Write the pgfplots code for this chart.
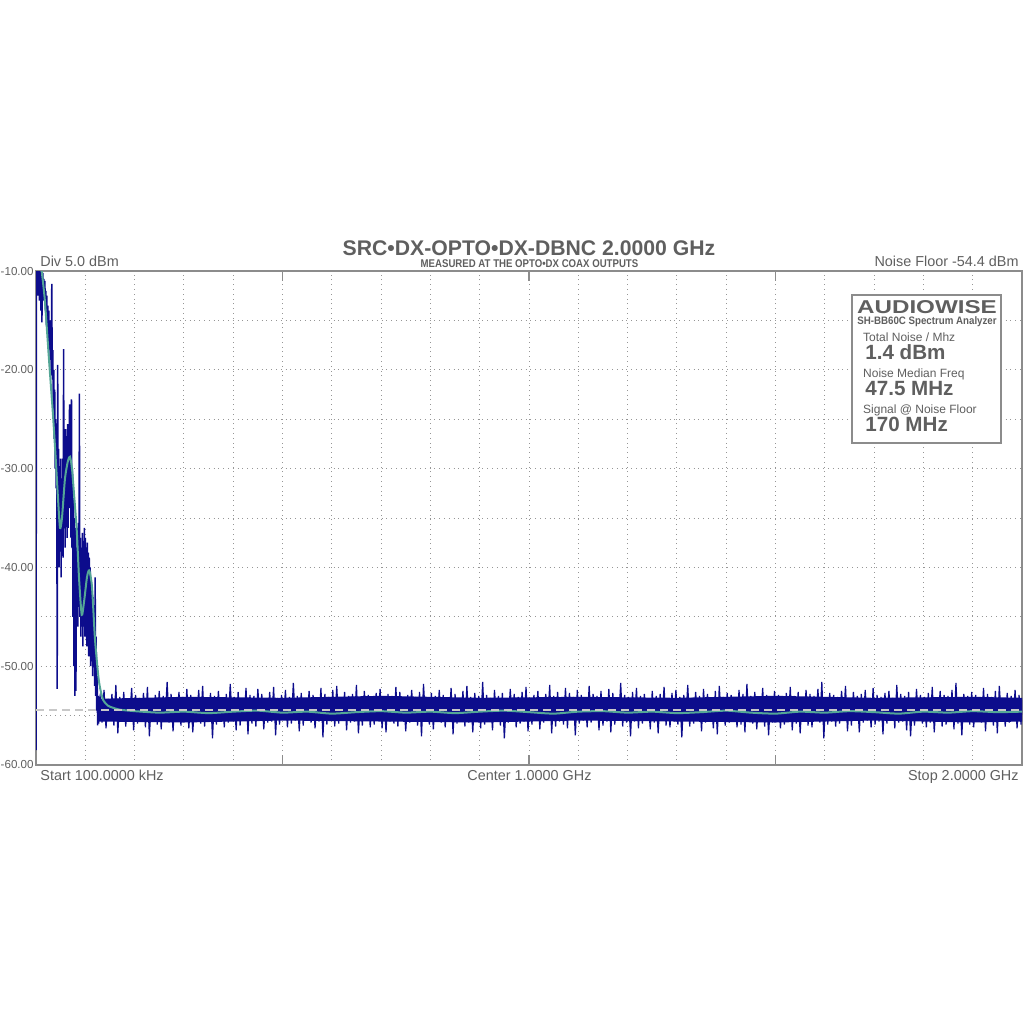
\documentclass[border=0pt]{standalone}
\usepackage{pgfplots}
\pgfplotsset{compat=1.18}
\usepackage{fontspec}
\setmainfont{Liberation Sans}
\definecolor{trace}{RGB}{12,12,140}
\definecolor{tealc}{RGB}{84,166,150}
\definecolor{txt}{RGB}{95,95,95}
\definecolor{axgray}{RGB}{140,140,140}
\definecolor{gridgray}{RGB}{150,150,150}
\definecolor{floorc}{RGB}{200,200,200}
\begin{document}
\begin{tikzpicture}
\useasboundingbox (0,0) rectangle (512pt,512pt);
\begin{axis}[
  at={(18pt,129.5pt)}, anchor=south west,
  scale only axis, width=493pt, height=247pt,
  xmin=0, xmax=2000, ymin=-60, ymax=-10,
  clip=true,
  axis line style={axgray, line width=1pt},
  xtick={0,100,...,2000}, xticklabels={},
  ytick={-60,-50,...,-10},
  yticklabels={-60.00,-50.00,-40.00,-30.00,-20.00,-10.00},
  minor ytick={-55,-45,-35,-25,-15},
  grid=both,
  major grid style={gridgray, dotted, line width=0.5pt},
  minor grid style={gridgray, dotted, line width=0.5pt},
  major tick length=0pt, minor tick length=0pt,
  extra x ticks={500,1000,1500}, extra x tick labels={},
  extra x tick style={grid=none, major tick length=5pt, tick align=inside, tickpos=both, tick style={axgray, line width=0.8pt}},
  yticklabel style={font=\fontsize{5.8pt}{6pt}\selectfont, text=txt, inner sep=0pt, xshift=-1pt},
]
% dense core of the noise floor trace
\addplot[fill=trace, draw=none] coordinates {
(126,-53.3)(300,-53.1)(500,-53.2)(700,-53.0)(900,-53.2)(1100,-53.1)(1300,-53.2)(1500,-53.0)(1700,-53.2)(1900,-53.1)(2000,-53.2)
(2000,-55.6)(1900,-55.7)(1700,-55.5)(1500,-55.7)(1300,-55.6)(1100,-55.5)(900,-55.7)(700,-55.6)(500,-55.5)(300,-55.7)(126,-55.6)
} -- cycle;
% navy spectrum trace: signal region
\addplot[trace, line width=0.75pt] coordinates {
(0.1,-58.5)(1,-10)(2,-11)(3,-10)(4,-12.5)(5,-10)(6,-10.5)(7,-13)(8,-10)(9,-11)(10,-14)(11,-10.5)(12,-15.2)(13,-11)(14,-10.2)(15,-13)(16,-10.8)(17,-12)(18,-11)(19,-14)(20,-12)(21,-15.5)(22,-12.5)(23,-16)(24,-13.5)(25,-17.5)(26,-14)(27,-18)(28,-15)(29,-19)(30,-16)(31,-20.5)(32,-11.3)(33,-21)(34,-18)(35,-24)(36,-20)(37,-27)(38,-22)(39,-30)(40,-25)(41,-32)(42,-26)(43,-52.3)(44,-19.5)(45,-36)(46,-28)(47,-40)(48,-30)(49,-37)(50,-29)(51,-41)(52,-31)(53,-38)(54,-29)(55,-39)(56,-17.9)(57,-36)(58,-27)(59,-38)(60,-26)(61,-35)(62,-28)(63,-37)(64,-25.5)(65,-36)(66,-27)(67,-34)(68,-23.5)(69,-33)(70,-26)(71,-37)(72,-23)(73,-38)(74,-30)(75,-45)(76,-33)(77,-50)(78,-35)(79,-53)(80,-36)(81,-52.5)(82,-38)(83,-44)(84,-36)(85,-46)(86,-35.5)(87,-44)(88,-22.4)(89,-45)(90,-37)(91,-47)(92,-38)(93,-46)(94,-36.5)(95,-48)(96,-38)(97,-46)(98,-36)(99,-47)(100,-37)(101,-45)(102,-38)(103,-48)(104,-37.5)(105,-46)(106,-38.5)(107,-49)(108,-39)(109,-47)(110,-40)(111,-50)(112,-41)(113,-48)(114,-42)(115,-51)(116,-43)(117,-49.5)(118,-44)(119,-52)(120,-41)(121,-53)(122,-47)(123,-54.5)(124,-51)(125,-56)(126,-53)(127,-55.8)(128,-53.5)
};
% navy spectrum trace: noise floor region
\addplot[trace, line width=0.6pt] coordinates {
(128,-53.5)(130,-53.0)(134,-55.7)(138,-52.4)(142,-56.3)(146,-53.3)(150,-55.4)(154,-52.8)(158,-56.0)(162,-51.9)(166,-56.8)(170,-53.1)(174,-55.6)(178,-52.6)(182,-56.1)(186,-53.5)(190,-55.3)(194,-52.2)(198,-56.5)(202,-52.9)(206,-55.8)
(210,-53.2)(214,-55.5)(218,-52.7)(222,-56.2)(226,-52.1)(230,-57.1)(234,-53.4)(238,-55.6)(242,-52.9)(246,-55.9)(250,-52.5)(254,-56.4)(258,-53.0)(262,-55.3)(266,-51.6)(270,-55.7)(274,-52.8)(278,-56.6)(282,-53.3)(286,-55.4)
(290,-52.6)(294,-56.0)(298,-53.1)(302,-55.6)(306,-52.3)(310,-56.3)(314,-52.9)(318,-56.7)(322,-53.6)(326,-55.5)(330,-52.4)(334,-55.8)(338,-52.0)(342,-56.1)(346,-53.2)(350,-55.3)(354,-52.7)(358,-57.3)(362,-53.0)(366,-55.9)
(370,-52.5)(374,-55.6)(378,-53.3)(382,-56.2)(386,-52.8)(390,-55.7)(394,-51.8)(398,-55.4)(402,-53.1)(406,-56.5)(410,-52.6)(414,-56.0)(418,-53.4)(422,-55.5)(426,-52.2)(430,-56.9)(434,-52.9)(438,-55.8)(442,-53.0)(446,-56.1)
(450,-52.3)(454,-55.3)(458,-52.8)(462,-56.4)(466,-53.5)(470,-55.7)(474,-52.6)(478,-55.6)(482,-52.1)(486,-57.0)(490,-53.2)(494,-55.9)(498,-52.9)(502,-55.4)(506,-52.4)(510,-56.2)(514,-53.1)(518,-55.8)(522,-51.7)(526,-55.5)
(530,-53.0)(534,-56.6)(538,-52.7)(542,-56.0)(546,-53.3)(550,-55.3)(554,-52.5)(558,-55.7)(562,-52.9)(566,-56.3)(570,-53.6)(574,-55.6)(578,-52.2)(582,-57.2)(586,-52.8)(590,-55.9)(594,-53.1)(598,-55.5)(602,-52.4)(606,-56.1)
(610,-52.0)(614,-55.8)(618,-53.2)(622,-55.4)(626,-52.6)(630,-56.5)(634,-53.0)(638,-55.7)(642,-52.8)(646,-55.6)(650,-51.9)(654,-56.8)(658,-53.4)(662,-56.0)(666,-52.5)(670,-55.3)(674,-52.9)(678,-56.2)(682,-53.1)(686,-55.9)
(690,-52.7)(694,-55.5)(698,-52.3)(702,-56.3)(706,-53.3)(710,-56.7)(714,-52.8)(718,-55.6)(722,-53.0)(726,-55.8)(730,-52.1)(734,-56.1)(738,-52.6)(742,-55.4)(746,-53.5)(750,-56.6)(754,-52.9)(758,-55.7)(762,-52.4)(766,-55.5)
(770,-53.1)(774,-56.0)(778,-52.6)(782,-57.1)(786,-51.8)(790,-55.3)(794,-53.2)(798,-55.9)(802,-52.7)(806,-56.4)(810,-53.0)(814,-55.6)(818,-52.4)(822,-55.7)(826,-52.9)(830,-56.2)(834,-53.4)(838,-55.4)(842,-52.2)(846,-56.9)
(850,-52.8)(854,-55.8)(858,-53.3)(862,-55.5)(866,-52.5)(870,-56.1)(874,-52.0)(878,-55.7)(882,-53.1)(886,-56.7)(890,-52.7)(894,-55.3)(898,-53.0)(902,-56.3)(906,-51.6)(910,-55.9)(914,-52.9)(918,-55.6)(922,-53.2)(926,-56.5)
(930,-52.4)(934,-55.4)(938,-53.0)(942,-56.0)(946,-52.7)(950,-57.3)(954,-53.5)(958,-55.7)(962,-52.3)(966,-55.5)(970,-52.8)(974,-56.2)(978,-53.1)(982,-55.8)(986,-52.6)(990,-55.6)(994,-52.1)(998,-56.6)(1002,-53.3)(1006,-55.9)
(1010,-52.9)(1014,-55.3)(1018,-52.5)(1022,-56.4)(1026,-53.2)(1030,-55.7)(1034,-52.8)(1038,-55.5)(1042,-51.9)(1046,-56.8)(1050,-53.0)(1054,-56.1)(1058,-52.6)(1062,-55.6)(1066,-53.4)(1070,-55.9)(1074,-52.2)(1078,-56.3)(1082,-52.7)(1086,-55.4)
(1090,-53.1)(1094,-57.0)(1098,-52.4)(1102,-55.8)(1106,-52.9)(1110,-55.5)(1114,-53.3)(1118,-56.2)(1122,-52.0)(1126,-55.7)(1130,-52.8)(1134,-55.3)(1138,-53.0)(1142,-56.5)(1146,-52.5)(1150,-56.0)(1154,-53.6)(1158,-55.6)(1162,-52.3)(1166,-56.7)
(1170,-52.7)(1174,-55.9)(1178,-53.2)(1182,-55.4)(1186,-51.7)(1190,-56.1)(1194,-52.9)(1198,-55.7)(1202,-53.1)(1206,-57.1)(1210,-52.6)(1214,-55.6)(1218,-52.2)(1222,-56.3)(1226,-53.0)(1230,-55.8)(1234,-52.8)(1238,-55.5)(1242,-53.4)(1246,-56.4)
(1250,-52.5)(1254,-55.7)(1258,-53.0)(1262,-56.8)(1266,-52.8)(1270,-55.3)(1274,-52.1)(1278,-56.0)(1282,-53.3)(1286,-56.2)(1290,-52.7)(1294,-55.6)(1298,-52.4)(1302,-55.9)(1306,-53.1)(1310,-57.2)(1314,-52.9)(1318,-55.5)(1322,-51.9)(1326,-56.1)
(1330,-53.2)(1334,-55.8)(1338,-52.6)(1342,-55.4)(1346,-53.0)(1350,-56.6)(1354,-52.3)(1358,-55.7)(1362,-52.8)(1366,-55.6)(1370,-53.5)(1374,-56.3)(1378,-52.5)(1382,-56.9)(1386,-52.0)(1390,-55.5)(1394,-53.1)(1398,-56.0)(1402,-52.7)(1406,-55.7)
(1410,-52.9)(1414,-55.3)(1418,-53.3)(1422,-56.2)(1426,-52.4)(1430,-55.9)(1434,-52.8)(1438,-56.7)(1442,-51.8)(1446,-55.6)(1450,-53.0)(1454,-55.8)(1458,-52.6)(1462,-56.4)(1466,-53.2)(1470,-55.5)(1474,-52.2)(1478,-56.1)(1482,-52.9)(1486,-57.0)
(1490,-53.1)(1494,-55.7)(1498,-52.5)(1502,-55.4)(1506,-52.9)(1510,-56.3)(1514,-53.4)(1518,-55.9)(1522,-52.7)(1526,-55.6)(1530,-52.1)(1534,-56.5)(1538,-53.0)(1542,-55.8)(1546,-52.6)(1550,-56.8)(1554,-53.3)(1558,-55.3)(1562,-52.4)(1566,-56.0)
(1570,-52.8)(1574,-56.2)(1578,-53.0)(1582,-55.5)(1586,-52.3)(1590,-55.7)(1594,-51.6)(1598,-57.3)(1602,-53.2)(1606,-55.9)(1610,-52.7)(1614,-55.6)(1618,-52.9)(1622,-56.1)(1626,-53.1)(1630,-55.8)(1634,-52.5)(1638,-55.4)(1642,-52.0)(1646,-56.6)
(1650,-53.3)(1654,-56.0)(1658,-52.6)(1662,-55.3)(1666,-53.0)(1670,-56.7)(1674,-52.8)(1678,-55.7)(1682,-52.4)(1686,-55.5)(1690,-53.5)(1694,-56.2)(1698,-52.2)(1702,-55.9)(1706,-52.9)(1710,-55.6)(1714,-53.1)(1718,-56.9)(1722,-52.7)(1726,-55.8)
(1730,-52.5)(1734,-55.4)(1738,-53.2)(1742,-56.3)(1746,-51.9)(1750,-55.7)(1754,-52.8)(1758,-55.6)(1762,-53.0)(1766,-56.5)(1770,-52.6)(1774,-57.1)(1778,-53.4)(1782,-56.0)(1786,-52.3)(1790,-55.5)(1794,-52.9)(1798,-55.8)(1802,-53.1)(1806,-56.2)
(1810,-52.7)(1814,-55.7)(1818,-52.1)(1822,-56.7)(1826,-53.3)(1830,-55.3)(1834,-52.5)(1838,-56.1)(1842,-52.9)(1846,-55.9)(1850,-53.0)(1854,-55.6)(1858,-52.4)(1862,-56.4)(1866,-51.7)(1870,-55.8)(1874,-53.2)(1878,-57.0)(1882,-52.8)(1886,-55.5)
(1890,-53.0)(1894,-55.9)(1898,-52.6)(1902,-56.2)(1906,-52.9)(1910,-55.4)(1914,-53.4)(1918,-55.7)(1922,-52.2)(1926,-56.6)(1930,-52.8)(1934,-55.6)(1938,-53.1)(1942,-56.0)(1946,-52.5)(1950,-56.8)(1954,-52.0)(1958,-55.3)(1962,-53.3)(1966,-56.1)
(1970,-52.7)(1974,-55.7)(1978,-53.0)(1982,-55.5)(1986,-52.4)(1990,-56.3)(1994,-52.9)(1998,-55.9)(2000,-53.4)
};
% smoothed trace
\addplot[tealc, line width=1pt, smooth, tension=0.4] coordinates {
(11.6,-10)(18,-13)(26.4,-19)(34.5,-24.6)(40.6,-29.5)(44.6,-33)(48.7,-36)(52.7,-35)(58.8,-31)(64.9,-29.2)(69,-28.8)(73,-30)(77,-32.5)(82.6,-36.2)(87.2,-41)(92.7,-44.8)(97.4,-43.5)(103.4,-41)(108,-40.3)(113.6,-42)(119.7,-47.3)(126.4,-51)(130,-52.2)(136,-53.4)(146,-54)(156,-54.2)(170,-54.4)(200,-54.55)(250,-54.7)(300,-54.6)(350,-54.75)(400,-54.6)(450,-54.5)(500,-54.7)(550,-54.6)(600,-54.8)(650,-54.65)(700,-54.55)(750,-54.7)(800,-54.6)(850,-54.75)(900,-54.6)(950,-54.5)(1000,-54.65)(1050,-54.8)(1100,-54.6)(1150,-54.55)(1200,-54.7)(1250,-54.6)(1300,-54.75)(1350,-54.65)(1400,-54.5)(1450,-54.7)(1500,-54.8)(1550,-54.6)(1600,-54.7)(1650,-54.55)(1700,-54.65)(1750,-54.8)(1800,-54.6)(1850,-54.7)(1900,-54.55)(1950,-54.65)(2000,-54.6)
};
% noise floor marker
\addplot[floorc, line width=1pt, dash pattern=on 4pt off 2.5pt] coordinates {(0,-54.4)(2000,-54.4)};
\end{axis}
% header and footer texts
\node[anchor=base, text=txt, font=\fontsize{10.6pt}{12pt}\selectfont\bfseries] at (264.5pt,384.3pt) {SRC•DX-OPTO•DX-DBNC 2.0000 GHz};
\node[anchor=base, text=txt, inner sep=0pt] at (264.75pt,378pt) {\scalebox{0.86}[1]{\fontsize{5.6pt}{6pt}\selectfont\bfseries MEASURED AT THE OPTO•DX COAX OUTPUTS}};
\node[anchor=base west, text=txt, inner sep=0pt, font=\fontsize{7.2pt}{8pt}\selectfont] at (20pt,378.5pt) {Div 5.0 dBm};
\node[anchor=base east, text=txt, inner sep=0pt, font=\fontsize{7.2pt}{8pt}\selectfont] at (509.5pt,378.5pt) {Noise Floor -54.4 dBm};
\node[anchor=base west, text=txt, inner sep=0pt, font=\fontsize{7.2pt}{8pt}\selectfont] at (20pt,121.5pt) {Start 100.0000 kHz};
\node[anchor=base, text=txt, inner sep=0pt, font=\fontsize{7.2pt}{8pt}\selectfont] at (264.75pt,121.5pt) {Center 1.0000 GHz};
\node[anchor=base east, text=txt, inner sep=0pt, font=\fontsize{7.2pt}{8pt}\selectfont] at (509.5pt,121.5pt) {Stop 2.0000 GHz};
% info box
\draw[axgray, line width=0.8pt, fill=white] (426pt,290.5pt) rectangle (500.5pt,364.5pt);
\node[anchor=base, text=txt, inner sep=0pt] at (463.5pt,355.4pt) {\scalebox{1.3}[1]{\fontsize{9.3pt}{10pt}\selectfont\bfseries AUDIOWISE}};
\node[anchor=base, text=txt, inner sep=0pt] at (463.5pt,349.8pt) {\scalebox{0.9}[1]{\fontsize{5.4pt}{6pt}\selectfont\bfseries SH-BB60C Spectrum Analyzer}};
\node[anchor=base west, text=txt, inner sep=0pt, font=\fontsize{6pt}{7pt}\selectfont] at (431.4pt,341.2pt) {Total Noise / Mhz};
\node[anchor=base west, text=txt, inner sep=0pt, font=\fontsize{10.3pt}{11pt}\selectfont\bfseries] at (432.5pt,332pt) {1.4 dBm};
\node[anchor=base west, text=txt, inner sep=0pt, font=\fontsize{6pt}{7pt}\selectfont] at (431.4pt,323.2pt) {Noise Median Freq};
\node[anchor=base west, text=txt, inner sep=0pt, font=\fontsize{10.3pt}{11pt}\selectfont\bfseries] at (432.5pt,314.2pt) {47.5 MHz};
\node[anchor=base west, text=txt, inner sep=0pt, font=\fontsize{6pt}{7pt}\selectfont] at (431.4pt,305.4pt) {Signal @ Noise Floor};
\node[anchor=base west, text=txt, inner sep=0pt, font=\fontsize{10.3pt}{11pt}\selectfont\bfseries] at (432.5pt,296.2pt) {170 MHz};
\end{tikzpicture}
\end{document}
